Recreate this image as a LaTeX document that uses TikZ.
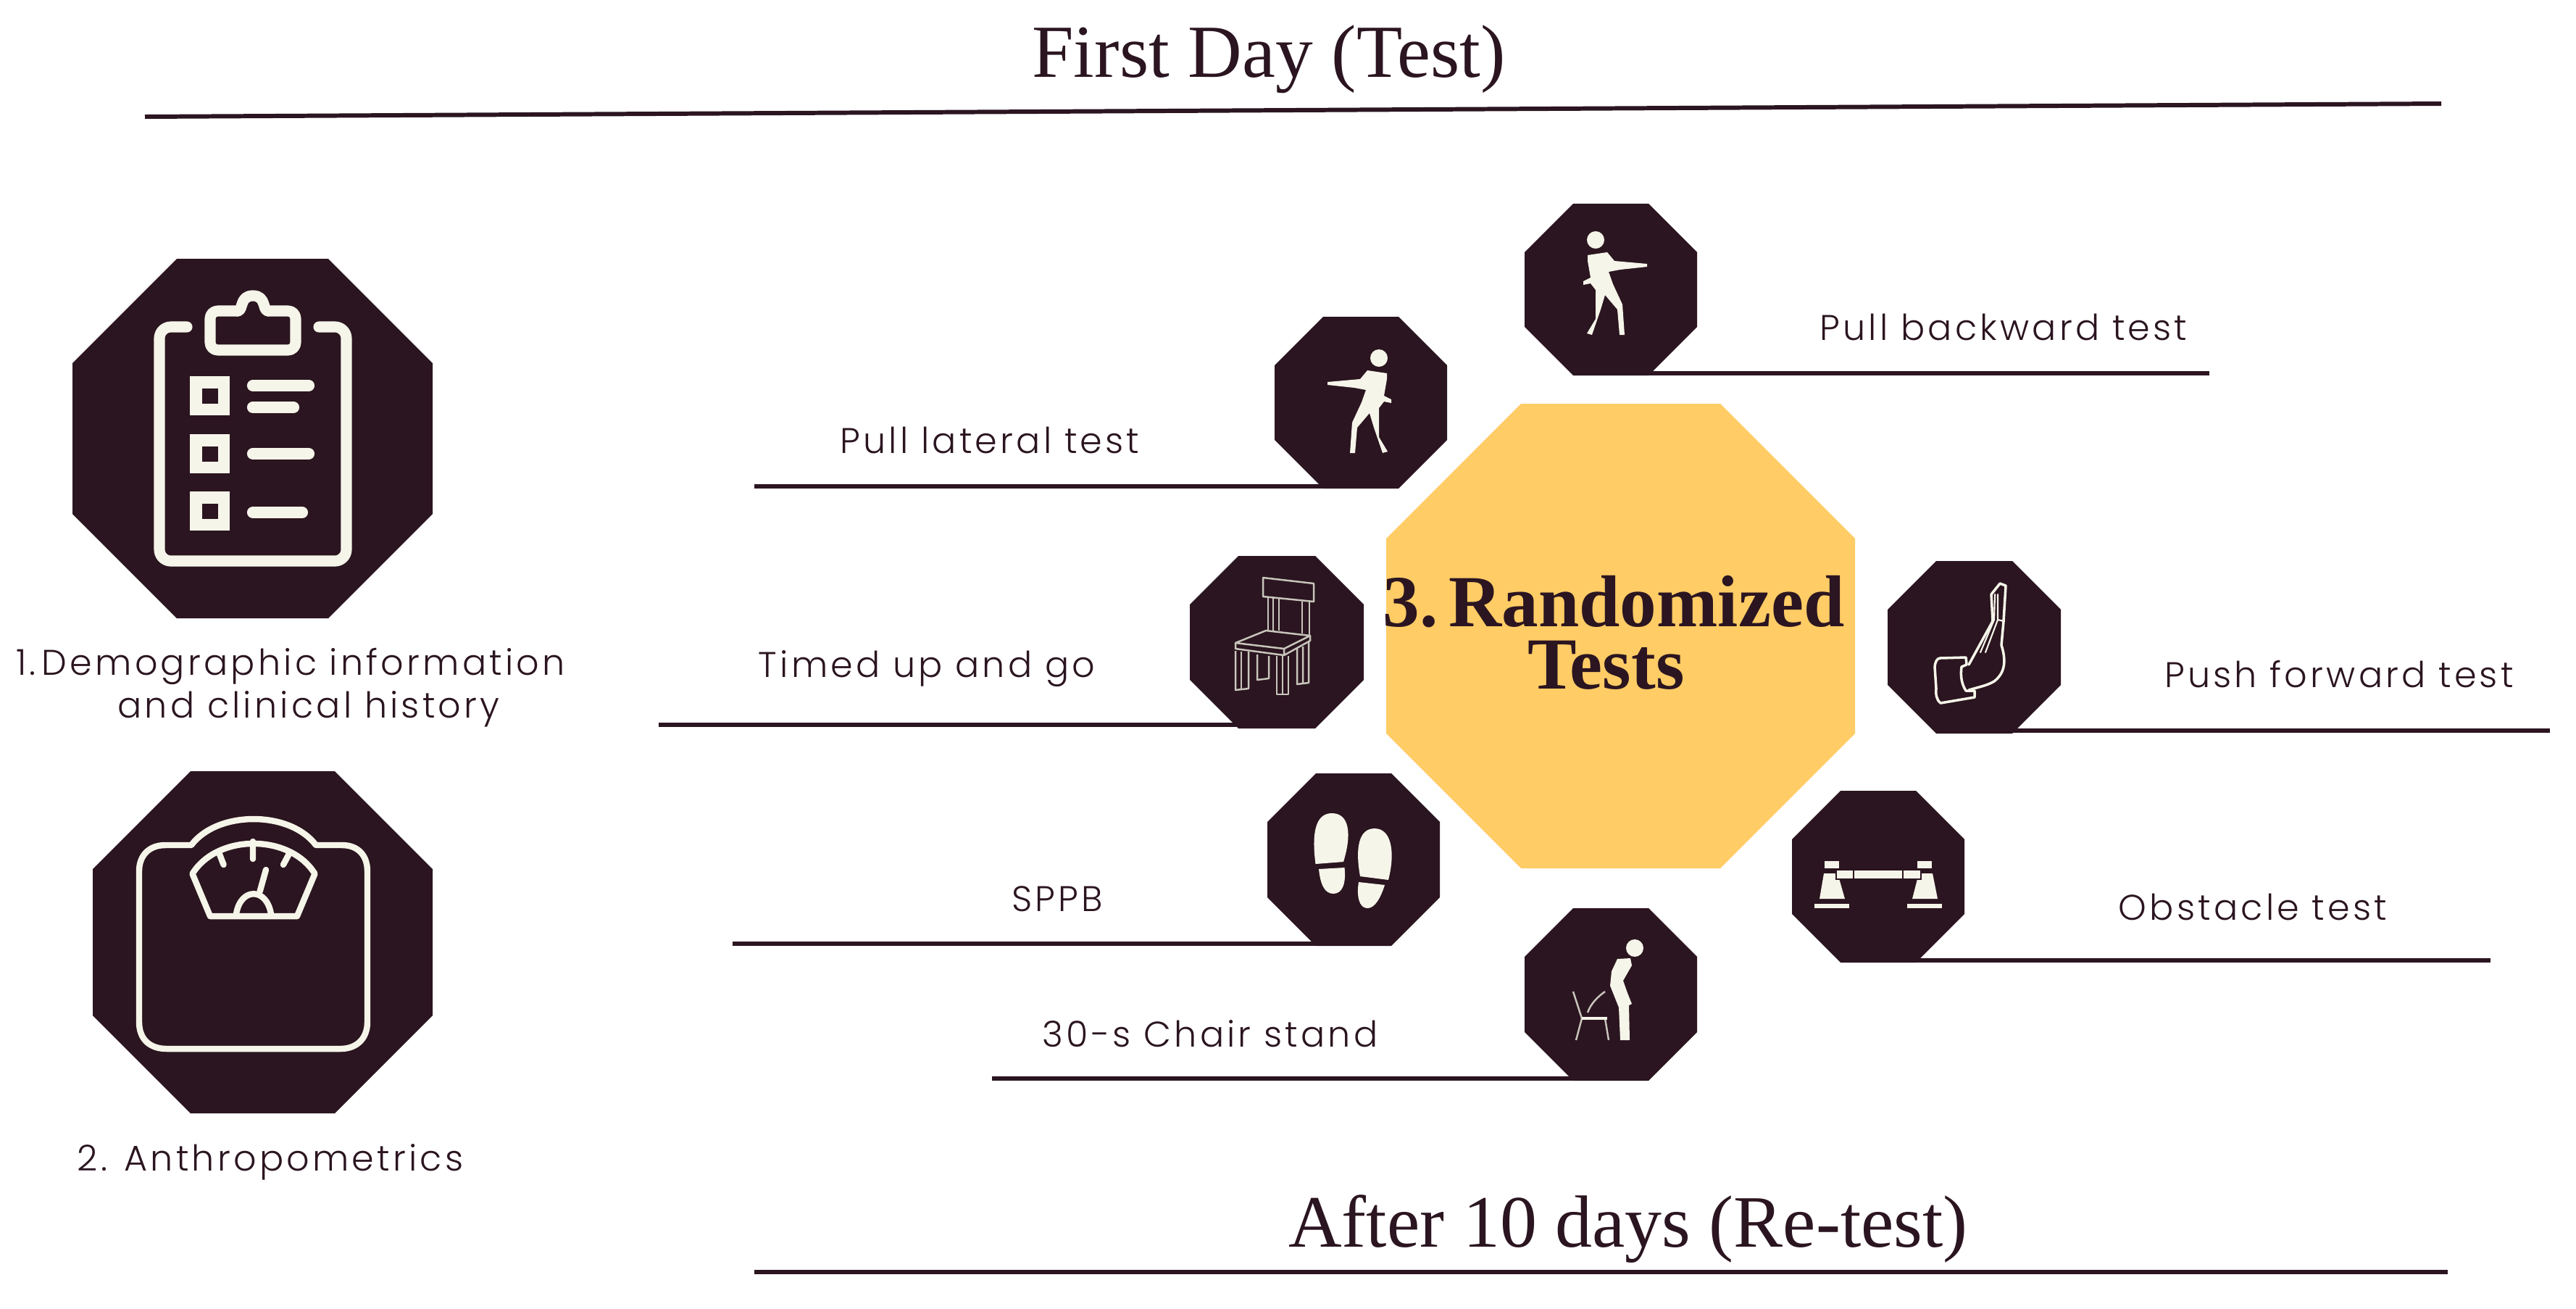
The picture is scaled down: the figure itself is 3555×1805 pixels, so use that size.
\documentclass[tikz,border=0pt]{standalone}
\usepackage{fontspec}
\usetikzlibrary{calc}
\setmainfont{Liberation Serif}
\newfontfamily\labfont[LetterSpace=8.5]{Poppins Light}
\definecolor{ink}{RGB}{43,21,32}
\definecolor{cream}{RGB}{245,245,233}
\definecolor{amber}{RGB}{255,204,102}
\definecolor{faint}{RGB}{200,198,188}
\newcommand{\octa}[7][ink]{% colour, name, x1, x2, y1, y2, chamfer
  \fill[#1] (#3+#7,#5) -- (#4-#7,#5) -- (#4,#5+#7) -- (#4,#6-#7) -- (#4-#7,#6) -- (#3+#7,#6) -- (#3,#6-#7) -- (#3,#5+#7) -- cycle;
  \node[inner sep=0pt, outer sep=0pt, minimum width=(#4-#3)*0.01cm, minimum height=(#6-#5)*0.01cm]
    (#2) at ({(#3+#4)/2},{(#5+#6)/2}) {};}
\newcommand{\walker}{%
  \fill[cream] (0,0) circle[radius=12];
  \fill[cream] (-11,21) -- (16,17) -- (26,29) -- (71,33) -- (71,37) -- (34,41) -- (18,44)
    -- (24,61) -- (37,89) -- (40,131) -- (33,131) -- (30,96) -- (13,76) -- (7,96)
    -- (-5,131) -- (-12,129) -- (0,109) -- (0,69) -- (-7,60) -- (-17,62) -- (-17,57)
    -- (-7,52) -- (-11,29) -- cycle;
}
\tikzset{
  rulee/.style={draw=ink,line width=1.7pt},
  lab/.style={font=\labfont\fontsize{14}{16}\selectfont,text=ink,inner sep=0pt,anchor=center},
  ttl/.style={font=\fontsize{29}{32}\selectfont,text=ink,inner sep=0pt},
  icon/.style={draw=cream,line cap=round,line join=round},
  thin/.style={draw=faint,line width=0.7pt,line join=round},
}
\begin{document}
\begin{tikzpicture}[x=0.01cm,y=-0.01cm]
\useasboundingbox (0,0) rectangle (3555,1805);
% titles
\node[ttl,font=\fontsize{29.4}{32}\selectfont] (title1) at (1751,82) {First Day (Test)};
\node[ttl] (title2) at (2247,1696) {After 10 days (Re-test)};
\coordinate (t1a) at (200,161); \coordinate (t1b) at (3369,143);
\draw[rulee] (t1a) -- (t1b);
\coordinate (t2a) at (1041,1755); \coordinate (t2b) at (3378,1755);
\draw[rulee] (t2a) -- (t2b);
% octagons
\octa{oClip}{100}{597}{357}{853}{144}
\octa{oScale}{128}{597}{1064}{1536}{135}
\octa[amber]{oMain}{1913}{2560}{557}{1198}{186}
\octa{oBack}{2104}{2342}{281}{518}{67}
\octa{oLat}{1759}{1997}{437}{674}{67}
\octa{oTimed}{1642}{1882}{767}{1005}{67}
\octa{oPush}{2605}{2844}{774}{1012}{67}
\octa{oObst}{2473}{2711}{1091}{1328}{67}
\octa{oSPPB}{1749}{1987}{1067}{1305}{67}
\octa{oStand}{2104}{2342}{1253}{1491}{67}
% connectors
\coordinate (eBack) at (3049,515); \draw[rulee] (oBack.center |- eBack) -- (eBack);
\coordinate (eLat) at (1041,671); \draw[rulee] (eLat) -- (eLat -| oLat.center);
\coordinate (eTimed) at (909,1000); \draw[rulee] (eTimed) -- (eTimed -| oTimed.center);
\coordinate (ePush) at (3519,1008); \draw[rulee] (oPush.center |- ePush) -- (ePush);
\coordinate (eObst) at (3437,1325); \draw[rulee] (oObst.center |- eObst) -- (eObst);
\coordinate (eSPPB) at (1011,1302); \draw[rulee] (eSPPB) -- (eSPPB -| oSPPB.center);
\coordinate (eStand) at (1369,1488); \draw[rulee] (eStand) -- (eStand -| oStand.center);
% main text
\node[font=\bfseries\fontsize{28.8}{24.5}\selectfont,text=ink,align=center,inner sep=0pt] (tMain) at (2227,873) {3.\hspace{0.15em}Randomized\\Tests\hspace*{6pt}};
% labels
\node[lab] (l1) at (401,919) {1.\,Demographic information};
\node[lab] (l1b) at (426,978) {and clinical history};
\node[lab] (l2) at (373,1603) {2. Anthropometrics};
\node[lab] (lBack) at (2765,451) {Pull backward test};
\node[lab] (lLat) at (1366,607) {Pull lateral test};
\node[lab] (lTimed) at (1279,923) {Timed up and go};
\node[lab] (lPush) at (3228,930) {Push forward test};
\node[lab] (lObst) at (3109,1251) {Obstacle test};
\node[lab] (lSPPB) at (1459,1240) {SPPB};
\node[lab] (lStand) at (1670,1426) {30-s Chair stand};
% clipboard icon
\draw[icon,line width=4.3pt,rounded corners=4.5pt] (258,451) -- (220,451) -- (220,774) -- (478,774) -- (478,451) -- (440,451);
\draw[icon,line width=4.3pt,rounded corners=3pt] (328,429) -- (290,429) -- (290,483) -- (408,483) -- (408,429) -- (370,429);
\draw[icon,line width=4.3pt] (328,429) .. controls (336,429) and (330,408) .. (349,408) .. controls (368,408) and (362,429) .. (370,429);
\foreach \yy in {519,599,678}{
  \draw[cream,line width=4.8pt] (270.5,\yy+8.5) rectangle (309,\yy+46);
}
\draw[icon,line width=4.6pt] (349,532) -- (426,532) (349,562) -- (405,562) (349,626) -- (426,626) (349,707) -- (417,707);
% scale icon
\draw[icon,line width=2.4pt] (264,1166) .. controls (300,1118) and (400,1118) .. (436,1166)
  -- (472,1166) .. controls (494,1166) and (507,1180) .. (507,1202) -- (507,1410)
  .. controls (507,1435) and (490,1447) .. (470,1447) -- (230,1447)
  .. controls (208,1447) and (192,1435) .. (192,1410) -- (192,1202)
  .. controls (192,1180) and (206,1166) .. (228,1166) -- cycle;
\draw[icon,line width=2.4pt] (265.5,1205.5) .. controls (300,1150) and (400,1150) .. (434.5,1205.5) -- (410,1264) -- (290,1264) -- cycle;
\draw[icon,line width=2.4pt] (349,1161) -- (349,1185) (302,1176) -- (308.6,1193) (400,1176) -- (391,1193) (367,1200) -- (358.6,1230);
\draw[icon,line width=2.4pt] (326,1261) .. controls (332,1224) and (368,1224) .. (374,1261);
% walkers
\begin{scope}[shift={(2202,331)}] \walker \end{scope}
\begin{scope}[shift={(1903,494)},xscale=-1] \walker \end{scope}
% chair icon
\draw[thin] (1743,797) -- (1813,805) -- (1813,830) -- (1743,823) -- cycle;
\draw[thin] (1750,825) -- (1750,869) (1757,825) -- (1757,870) (1765,826) -- (1765,870) (1797,830) -- (1797,874) (1807,830) -- (1807,876);
\draw[thin] (1705,887) -- (1747,870) -- (1808,877) -- (1772,895) -- cycle;
\draw[thin] (1705,887) -- (1705,895) -- (1772,904) -- (1808,884) -- (1808,877) (1772,895) -- (1772,904);
\draw[thin] (1705,898) -- (1705,952) -- (1723,950) -- (1723,899);
\draw[thin] (1735,903) -- (1735,938) -- (1751,936) -- (1751,905);
\draw[thin] (1762,905) -- (1762,958) -- (1778,958) -- (1778,905) (1770,905) -- (1770,957);
\draw[thin] (1790,895) -- (1790,944) -- (1806,942) -- (1806,885) (1798,892) -- (1798,942);
\draw[thin] (1713,899) -- (1713,950);
% push icon
\draw[icon,line width=1pt]
  (2677,908) -- (2713,907) -- (2714,917) -- (2707,920) .. controls (2705,935) and (2708,945) .. (2713,953) -- (2725,953) -- (2725,962) -- (2678,970)
  .. controls (2672,965) and (2671,957) .. (2672,950) -- (2670,920) .. controls (2671,912) and (2673,909) .. (2677,908) -- cycle;
\draw[icon,line width=1pt]
  (2717,917) -- (2750,857) -- (2748,820) -- (2760,805) -- (2768,808) -- (2765,857) -- (2762,890)
  .. controls (2770,915) and (2765,930) .. (2752,940) .. controls (2742,946) and (2730,948) .. (2717,952);
\draw[icon,line width=0.6pt] (2757,855) -- (2765,857) (2753,820) -- (2752,855) -- (2733,900) (2757,820) -- (2757,855) -- (2740,900);
% obstacle icon
\fill[cream] (2518,1188) rectangle (2538,1198);
\fill[cream] (2517,1205) -- (2536,1205) -- (2546,1240) -- (2511,1240) -- cycle;
\fill[cream] (2504,1247) rectangle (2552,1253);
\fill[cream] (2646,1188) rectangle (2666,1198);
\fill[cream] (2648,1205) -- (2667,1205) -- (2674,1240) -- (2639,1240) -- cycle;
\fill[cream] (2632,1247) rectangle (2680,1253);
\fill[cream,draw=ink,line width=0.6pt] (2534,1200) rectangle (2558,1213);
\fill[cream,draw=ink,line width=0.6pt] (2558,1200) rectangle (2626,1213);
\fill[cream,draw=ink,line width=0.6pt] (2626,1200) rectangle (2651,1213);
% footprints
\fill[cream] (1815.5,1192) .. controls (1810,1150) and (1815,1122) .. (1838,1122) .. controls (1862,1122) and (1866,1150) .. (1854,1189) -- cycle;
\fill[cream] (1820,1199) -- (1855.5,1197) .. controls (1858,1220) and (1852,1233) .. (1840,1233) .. controls (1828,1233) and (1822,1220) .. (1820,1199) -- cycle;
\fill[cream] (1877,1209) .. controls (1870,1170) and (1875,1143) .. (1897,1143) .. controls (1920,1143) and (1926,1175) .. (1916,1214) -- cycle;
\fill[cream] (1875,1217) -- (1911,1221) .. controls (1905,1240) and (1897,1253) .. (1887,1253) .. controls (1875,1253) and (1872,1235) .. (1875,1217) -- cycle;
% chair-stand icon
\fill[cream] (2256,1308) circle[radius=12];
\fill[cream] (2232,1323) -- (2250,1322) -- (2252,1332) -- (2240,1353) -- (2246,1370) -- (2252,1385) -- (2248,1387) -- (2249,1435) -- (2236,1435) -- (2234,1390) -- (2222,1360) -- (2224,1340) -- cycle;
\draw[thin] (2171,1368) -- (2183,1405) (2183,1405) -- (2175,1435) (2215,1405) -- (2220,1435) (2191,1397) .. controls (2195,1385) and (2205,1375) .. (2215,1368);
\draw[cream,line width=1.2pt] (2183,1405) -- (2218,1405);
\end{tikzpicture}
\end{document}
